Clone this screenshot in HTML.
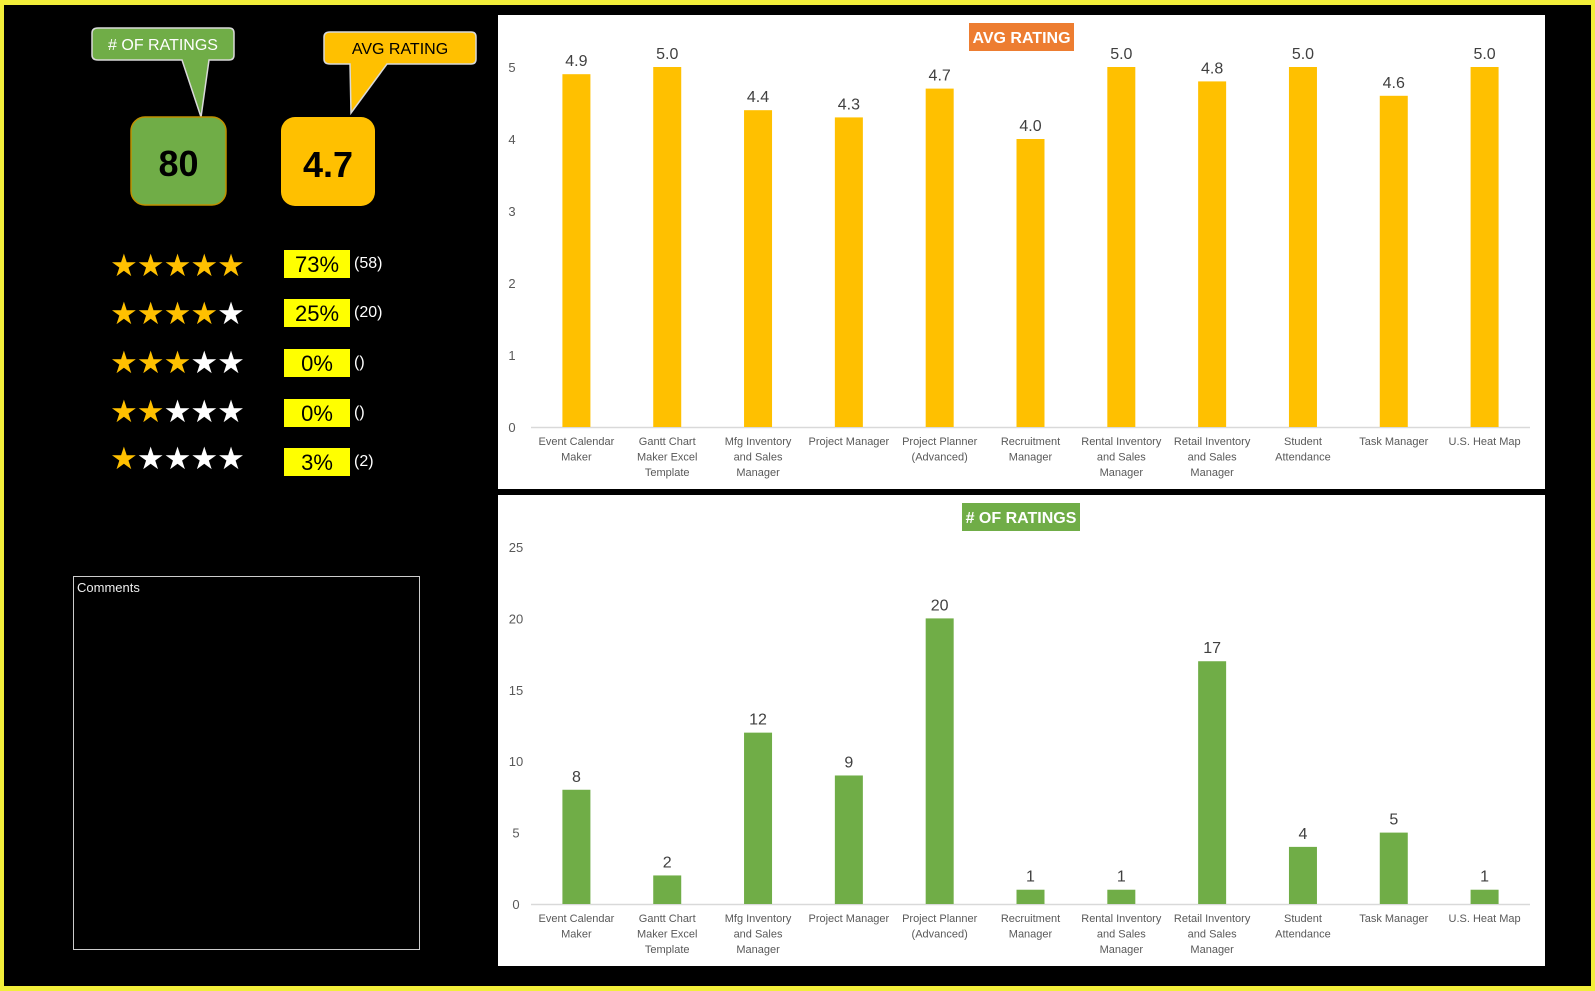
<!DOCTYPE html>
<html><head><meta charset="utf-8"><style>
html,body{margin:0;padding:0}
body{width:1595px;height:991px;background:#F2EE3A;position:relative;overflow:hidden;font-family:"Liberation Sans",sans-serif}
#bg{position:absolute;left:4px;top:5px;width:1587px;height:981px;background:#000}
.abs{position:absolute}
.panel{position:absolute;left:498px;width:1047px;background:#fff}
.stars{position:absolute;left:110px;font-size:31px;letter-spacing:-1px;line-height:32px}
.g{color:#FFC000}.w{color:#fff}
.pct{position:absolute;left:284px;width:66px;height:28px;background:#FFFF00;color:#000;font-size:22px;text-align:center;line-height:29px}
.cnt{position:absolute;left:354px;color:#fff;font-size:16px;line-height:28px}
</style></head><body>
<div id="bg"></div>

<svg class="abs" style="left:0;top:0" width="490" height="220">
  <g>
    <path d="M98,28 H229 Q234,28 234,33 V55 Q234,60 229,60 H209 L201,117 L182,60 H98 Q92,60 92,55 V33 Q92,28 98,28 Z" fill="#70AD47" stroke="#d9d9d9" stroke-width="1.5"/>
    <text x="163" y="50" font-size="16" fill="#fff" text-anchor="middle">#&#160;OF RATINGS</text>
  </g>
  <g>
    <path d="M330,32 H471 Q476,32 476,37 V59 Q476,64 471,64 H387 L351,113 L350,64 H330 Q324,64 324,59 V37 Q324,32 330,32 Z" fill="#FFC000" stroke="#d9d9d9" stroke-width="1.5"/>
    <text x="400" y="54" font-size="16" fill="#000" text-anchor="middle">AVG RATING</text>
  </g>
  <rect x="131" y="117" width="95" height="88" rx="14" fill="#70AD47" stroke="#C09000" stroke-width="1.5"/>
  <text x="178.5" y="176" font-size="36" font-weight="bold" fill="#000" text-anchor="middle">80</text>
  <rect x="281" y="117" width="94" height="89" rx="14" fill="#FFC000"/>
  <text x="328" y="177" font-size="36" font-weight="bold" fill="#000" text-anchor="middle">4.7</text>
</svg>

<div class="stars" style="top:250px"><span class="g">★★★★★</span></div>
<div class="pct" style="top:250px">73%</div>
<div class="cnt" style="top:250px">(58)</div>
<div class="stars" style="top:298px"><span class="g">★★★★</span><span class="w">★</span></div>
<div class="pct" style="top:299px">25%</div>
<div class="cnt" style="top:299px">(20)</div>
<div class="stars" style="top:347px"><span class="g">★★★</span><span class="w">★★</span></div>
<div class="pct" style="top:349px">0%</div>
<div class="cnt" style="top:349px">()</div>
<div class="stars" style="top:396px"><span class="g">★★</span><span class="w">★★★</span></div>
<div class="pct" style="top:399px">0%</div>
<div class="cnt" style="top:399px">()</div>
<div class="stars" style="top:443px"><span class="g">★</span><span class="w">★★★★</span></div>
<div class="pct" style="top:448px">3%</div>
<div class="cnt" style="top:448px">(2)</div>

<div class="abs" style="left:73px;top:576px;width:345px;height:372px;border:1.5px solid #ccc">
  <div style="color:#eee;font-size:13px;margin:3px 0 0 3px">Comments</div>
</div>

<div class="panel" style="top:15px;height:474px"></div>
<div class="panel" style="top:495px;height:471px"></div>

<svg id="charts" class="abs" style="left:0;top:0" width="1595" height="991"></svg>

<script>
const categories = [["Event Calendar","Maker"],["Gantt Chart","Maker Excel","Template"],["Mfg Inventory","and Sales","Manager"],["Project Manager"],["Project Planner","(Advanced)"],["Recruitment","Manager"],["Rental Inventory","and Sales","Manager"],["Retail Inventory","and Sales","Manager"],["Student","Attendance"],["Task Manager"],["U.S. Heat Map"]];
const avgRatings = [4.9, 5.0, 4.4, 4.3, 4.7, 4.0, 5.0, 4.8, 5.0, 4.6, 5.0];
const ratingCounts = [8, 2, 12, 9, 20, 1, 1, 17, 4, 5, 1];
const avgTicks = [0, 1, 2, 3, 4, 5];
const countTicks = [0, 5, 10, 15, 20, 25];

const NS = "http://www.w3.org/2000/svg";
const svg = document.getElementById("charts");
function mk(tag, attrs, parent) {
  const e = document.createElementNS(NS, tag);
  for (const k in attrs) e.setAttribute(k, attrs[k]);
  (parent || svg).appendChild(e);
  return e;
}

function drawChart(cfg) {
  const g = mk("g", {});
  
  
  const x0 = 531, x1 = 1530;
  const n = categories.length;
  const step = (x1 - x0) / n;
  const xCenter = i => x0 + step * (i + 0.5);
  const yScale = v => cfg.y0 - (v - cfg.min) / (cfg.max - cfg.min) * (cfg.y0 - cfg.yTop);
  // title
  const tb = mk("rect", {x: cfg.titleX, y: cfg.titleY, width: cfg.titleW, height: 28, fill: cfg.titleColor}, g);
  
  
  const tt = mk("text", {x: cfg.titleX + cfg.titleW / 2, y: cfg.titleY + 20, "font-size": 16, "font-weight": "bold", fill: "#fff", "text-anchor": "middle"}, g);
  tt.textContent = cfg.title;
  
  
  // ticks
  cfg.ticks.forEach(t => {
    const tx = mk("text", {x: cfg.tickX, y: yScale(t) + 5, "font-size": 13, fill: "#595959", "text-anchor": "middle"}, g);
    tx.textContent = t;
    
    
  });
  // axis line
  const ax = mk("line", {x1: x0, x2: x1, y1: cfg.y0 + 0.5, y2: cfg.y0 + 0.5, stroke: "#d9d9d9", "stroke-width": 1.5}, g);
  
  
  cfg.values.forEach((v, i) => {
    const cx = xCenter(i), bw = 28;
    const yt = yScale(v);
    const r = mk("rect", {x: cx - bw / 2, y: yt, width: bw, height: cfg.y0 - yt, fill: cfg.color}, g);
    
    
    const lb = mk("text", {x: cx, y: yt - 8, "font-size": 16, fill: "#404040", "text-anchor": "middle"}, g);
    lb.textContent = cfg.fmt(v);
    
    
    categories[i].forEach((line, j) => {
      const c = mk("text", {x: cx, y: cfg.y0 + 18 + j * 15.5, "font-size": 11, fill: "#595959", "text-anchor": "middle"}, g);
      c.textContent = line;
      
      
    });
  });
}

drawChart({name: "avg-rating-chart", values: avgRatings, ticks: avgTicks, min: 0, max: 5, y0: 427, yTop: 67, tickX: 512,
  color: "#FFC000", title: "AVG RATING", titleColor: "#ED7D31", titleX: 969, titleY: 23, titleW: 105, fmt: v => v.toFixed(1)});
drawChart({name: "ratings-count-chart", values: ratingCounts, ticks: countTicks, min: 0, max: 25, y0: 904, yTop: 547, tickX: 516,
  color: "#70AD47", title: "# OF RATINGS", titleColor: "#70AD47", titleX: 962, titleY: 503, titleW: 118, fmt: v => String(v)});
</script>
</body></html>
